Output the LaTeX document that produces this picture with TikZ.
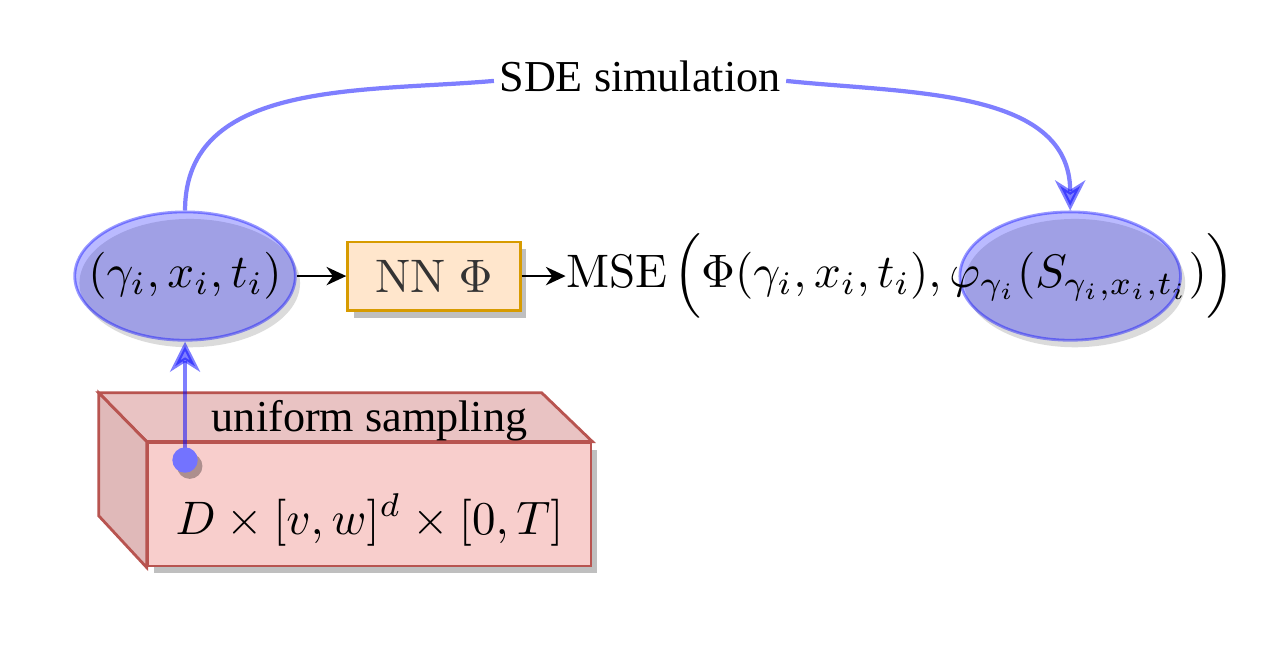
\documentclass[tikz,border=0pt]{standalone}
\usepackage{amsmath}
\usepackage{fontspec}
\newfontfamily\timesfont{Liberation Serif}
\usetikzlibrary{positioning,shapes.geometric,shadows,arrows.meta,backgrounds}

\definecolor{nnfill}{HTML}{FFE6CC}
\definecolor{nnline}{HTML}{D79B00}
\definecolor{cubefront}{HTML}{F8CECC}
\definecolor{cubetop}{HTML}{E9C3C3}
\definecolor{cubeleft}{HTML}{E0B9B9}
\definecolor{cubeline}{HTML}{B85450}

\tikzset{
  blob/.style={ellipse, draw=blue, draw opacity=0.4, line width=0.6pt, fill=blue, fill opacity=0.27,
    minimum width=1.65cm, minimum height=0.96cm, inner sep=0pt,
    drop shadow={shadow xshift=1pt, shadow yshift=-1.5pt, fill=black, opacity=0.14}},
  nnbox/.style={draw=nnline, fill=nnfill, line width=0.6pt, text=black!80,
    minimum width=1.29cm, minimum height=0.51cm,
    drop shadow={shadow xshift=1.3pt, shadow yshift=-1.6pt, fill=black, opacity=0.25}},
  cubeside/.style={draw=cubeline, line width=0.6pt},
  seeddot/.style={circle, fill=blue!55!white, inner sep=0pt, minimum size=0.19cm,
    drop shadow={shadow xshift=1pt, shadow yshift=-1.3pt, fill=black, opacity=0.3}},
  flow/.style={draw=blue, opacity=0.5, line width=0.9pt, -{Stealth[length=6.4pt,width=6.4pt,inset=2pt]}},
  feed/.style={black, line width=0.5pt, -{Stealth[length=4.2pt,width=3.9pt]}},
  serifnote/.style={font=\timesfont\fontsize{9.4}{11}\selectfont},
}

\begin{document}
\begin{tikzpicture}
    \useasboundingbox (0,0) rectangle (9.596,4.817);

    % sampling domain (cube)
    \node[cubeside, fill=cubefront, minimum width=3.313cm, minimum height=0.92cm,
      drop shadow={shadow xshift=1.3pt, shadow yshift=-1.5pt, fill=black, opacity=0.25}] (domain) at (2.764,1.043) {};
    \draw[cubeside, fill=cubetop] (domain.north east) -- (domain.north west) -- ++(-0.359,0.366) -- ++(3.313,0) -- cycle;
    \draw[cubeside, fill=cubeleft] (domain.north west) -- ++(-0.359,0.366) -- ++(0,-0.92) -- (domain.south west) -- cycle;
    \node[serifnote] (sampling) at ([yshift=0.157cm]domain.north) {uniform sampling};
    \node (space) at ([yshift=-0.115cm]domain.center) {$D \times [v,w]^d \times [0,T]$};

    % main row
    \node[blob] (start) at (1.384,2.752) {};
    \node (starttext) at (start) {$(\gamma_i, x_i, t_i)$};
    \node[nnbox, right=0.37cm of start] (nn) {$\mathrm{NN}\;\Phi$};
    \node[inner sep=0pt, right=0.33cm of nn] (mse) {$\mathrm{MSE}\mkern2mu\Big(\Phi(\gamma_i,x_i,t_i),\varphi_{\gamma_i}(S_{\gamma_i,x_i,t_i})\Big)$};
    \begin{scope}[on background layer]
      \node[blob] (target) at ([xshift=-1.24cm]mse.east) {};
    \end{scope}

    \draw[feed] (start) -- (nn);
    \draw[feed] (nn) -- (mse);

    % simulation arc
    \node[serifnote, inner sep=1pt] (sde) at (4.787,4.249) {SDE simulation};
    \draw[flow, -] (start.north) to[out=90, in=185] (sde.mid west);
    \draw[flow] (sde.mid east) to[out=-6, in=90] (target.north);

    % sampled point
    \coordinate (seed) at (1.384,1.376);
    \draw[flow] (seed) -- (start.south);
    \node[seeddot] (seedpoint) at (seed) {};
\end{tikzpicture}
\end{document}
